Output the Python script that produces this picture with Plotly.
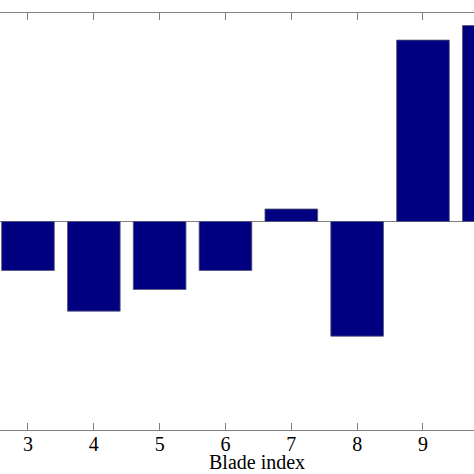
import plotly.graph_objects as go

blade_index = [3, 4, 5, 6, 7, 8, 9, 10]
values = [-0.235, -0.43, -0.326, -0.235, 0.06, -0.55, 0.87, 0.94]
tick_vals = [3, 4, 5, 6, 7, 8, 9, 10]
tick_text = ["3", "4", "5", "6", "7", "8", "9", "10"]
x_label = "Blade index"

fig = go.Figure(
    go.Bar(
        x=blade_index,
        y=values,
        width=0.8,
        marker=dict(color="#000080", line=dict(color="#555577", width=0.8)),
    )
)

fig.update_layout(
    width=474,
    height=474,
    margin=dict(l=0, r=0, t=13, b=44),
    paper_bgcolor="white",
    plot_bgcolor="white",
    showlegend=False,
    font=dict(family="Liberation Serif, Times New Roman, serif", size=20, color="black"),
    xaxis=dict(
        range=[2.575, 9.775],
        tickvals=tick_vals,
        ticktext=tick_text,
        ticks="inside",
        ticklen=7,
        tickwidth=1,
        tickcolor="#808080",
        showline=True,
        linecolor="#808080",
        linewidth=1,
        mirror="ticks",
        showgrid=False,
        zeroline=False,
        tickfont=dict(size=20),
        ticklabelstandoff=-4,
    ),
    yaxis=dict(
        range=[-1, 1],
        showticklabels=False,
        ticks="",
        showline=False,
        showgrid=False,
        zeroline=True,
        zerolinecolor="#808080",
        zerolinewidth=1,
    ),
    annotations=[
        dict(
            text=x_label,
            x=6.48,
            xref="x",
            y=-0.077,
            yref="paper",
            yanchor="middle",
            showarrow=False,
            font=dict(size=20),
        )
    ],
)

fig.write_html(
    "out.html",
    config={"displayModeBar": False},
    post_script="document.body.style.margin='0';document.body.style.padding='0';",
)
